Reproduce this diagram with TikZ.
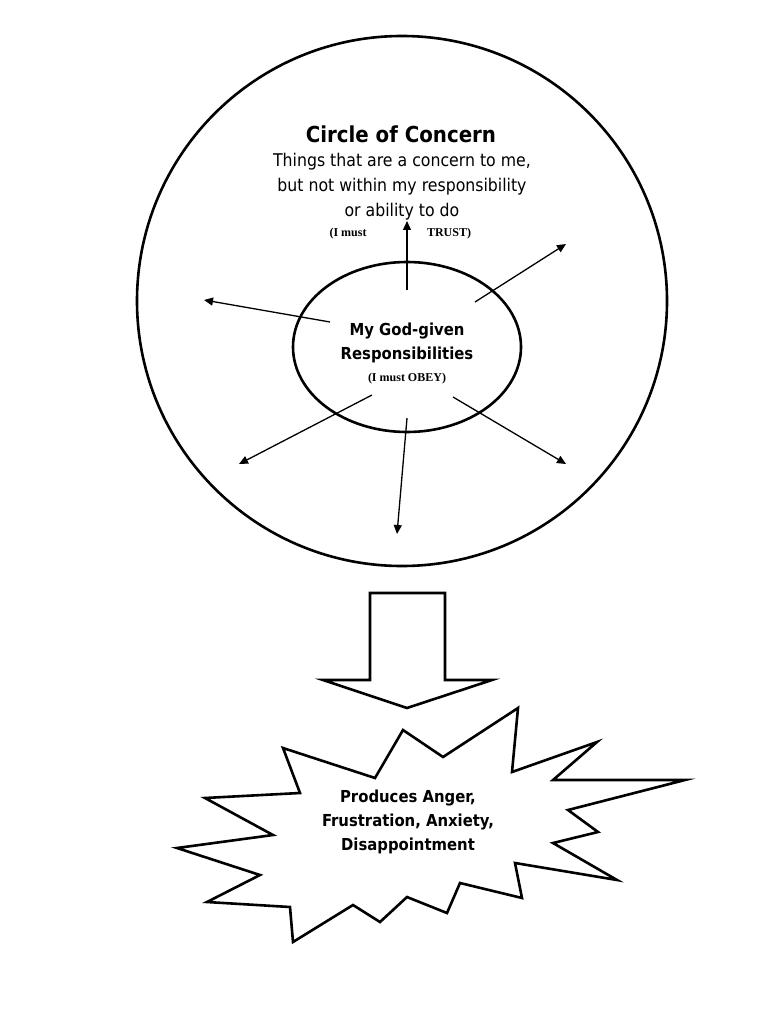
\documentclass[tikz,border=0pt]{standalone}
\usepackage{fontspec}
\setmainfont{DejaVu Sans Condensed}
\newfontfamily\serifb{Liberation Serif}
\usetikzlibrary{arrows.meta,shapes.geometric}
\begin{document}
\begin{tikzpicture}[x=1pt,y=-1pt,
  outl/.style={draw=black,line width=2.6pt,line join=miter},
  arr/.style={-{Triangle[length=9pt,width=8pt]},line width=1.3pt},
  small/.style={font=\serifb\bfseries\fontsize{12}{14}\selectfont}]
\useasboundingbox (0,0) rectangle (768,1024);
\node[outl,circle,minimum size=530pt,inner sep=0] (big) at (402,301) {};
\node[outl,ellipse,minimum width=228pt,minimum height=170pt,inner sep=0] (inner) at (407,347) {};
\node (title) at (401,134) {\bfseries\fontsize{22}{26}\selectfont Circle of Concern};
\node[align=center,font=\fontsize{17.5}{25}\selectfont] (desc) at (402,187) {Things that are a concern to me,\\but not within my responsibility\\or ability to do};
\node[small] (must) at (348,234) {(I must};
\node[small] (trust) at (449,234) {TRUST)};
\node[align=center,font=\bfseries\fontsize{16.5}{24}\selectfont] (resp) at (407,343) {My God-given\\Responsibilities};
\node[small] (obey) at (407,379) {(I must OBEY)};
\coordinate (a1s) at (407,290); \coordinate (a1e) at (407,221);
\coordinate (a2s) at (475,302); \coordinate (a2e) at (566,244);
\coordinate (a3s) at (330,322); \coordinate (a3e) at (204,300);
\coordinate (a4s) at (372,395); \coordinate (a4e) at (239,464);
\coordinate (a5s) at (407,418); \coordinate (a5e) at (397,534);
\coordinate (a6s) at (453,397); \coordinate (a6e) at (566,464);
\foreach \i in {1,...,6} \draw[arr] (a\i s) -- (a\i e);
\draw[outl] (370,593) -- (445,593) -- (445,680) -- (492,680) -- (407,708) -- (323,680) -- (370,680) -- cycle;
\draw[outl] (283,748) -- (375,778) -- (403,730) -- (443,757) -- (518,708) -- (512,772) -- (597,742) -- (553,780) -- (685,780) -- (568,810) -- (598,832) -- (553,843) -- (617,880) -- (515,863) -- (522,898) -- (460,883) -- (447,913) -- (407,897) -- (380,922) -- (353,905) -- (293,942) -- (290,907) -- (207,902) -- (260,875) -- (177,848) -- (273,835) -- (205,798) -- (300,793) -- cycle;
\node[align=center,font=\bfseries\fontsize{16.5}{24}\selectfont] (burst) at (408,822) {Produces Anger,\\Frustration, Anxiety,\\Disappointment};
\end{tikzpicture}
\end{document}
